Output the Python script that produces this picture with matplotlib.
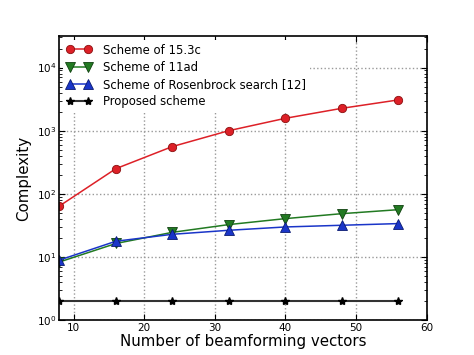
import numpy as np
import matplotlib
matplotlib.use("Agg")
import matplotlib.pyplot as plt
from matplotlib.ticker import LogLocator, NullFormatter

x = [8, 16, 24, 32, 40, 48, 56]
scheme_153c = [64, 250, 560, 1000, 1570, 2260, 3070]
scheme_11ad = [8.3, 16.3, 24.5, 32.5, 40.4, 48.4, 56]
scheme_rosen = [8.9, 17.7, 22.8, 26.4, 29.8, 31.7, 33.7]
proposed = [2, 2, 2, 2, 2, 2, 2]

labels = ["Scheme of 15.3c", "Scheme of 11ad",
          "Scheme of Rosenbrock search [12]", "Proposed scheme"]

fig = plt.figure(figsize=(4.74, 3.55), dpi=100)
ax = fig.add_axes([59.4/474, 1-320/355, (426.5-59.4)/474, (320-36)/355])

ax.plot(x, scheme_153c, color="#dd2027", marker="o", markersize=6,
        markeredgecolor="#8a1010", markeredgewidth=0.6, lw=1.1, label=labels[0])
ax.plot(x, scheme_11ad, color="#227a22", marker="v", markersize=6.5,
        markeredgecolor="#0f400f", markeredgewidth=0.6, lw=1.1, label=labels[1])
ax.plot(x, scheme_rosen, color="#1a35c8", marker="^", markersize=6.5,
        markeredgecolor="#0a1a70", markeredgewidth=0.6, lw=1.1, label=labels[2])
ax.plot(x, proposed, color="#333333", marker="*", markersize=6,
        markeredgecolor="black", markerfacecolor="black", lw=1.5, label=labels[3])

ax.set_yscale("log")
ax.set_xlim(8, 60)
ax.set_ylim(1, 10**4.5)
ax.set_xticks([10, 20, 30, 40, 50, 60])
ax.yaxis.set_major_locator(LogLocator(base=10, numticks=10))
ax.yaxis.set_minor_locator(LogLocator(base=10, subs=np.arange(2, 10), numticks=10))
ax.yaxis.set_minor_formatter(NullFormatter())

ax.grid(True, which="major", linestyle=":", color="#999999", lw=1.0)
ax.tick_params(which="both", direction="in", top=True, right=True, labelsize=7.5)
ax.tick_params(which="major", length=4, pad=2)
ax.tick_params(which="minor", length=2)
for s in ax.spines.values():
    s.set_linewidth(1.2)

ax.set_xlabel("Number of beamforming vectors", fontsize=10.8, labelpad=1)
ax.set_ylabel("Complexity", fontsize=10.8, labelpad=4)

leg = ax.legend(loc="upper left", fontsize=8.4, frameon=True, fancybox=False,
                numpoints=2, handlelength=2.1, handletextpad=1.0,
                borderaxespad=0.35, borderpad=0.3, labelspacing=0.35)
leg.get_frame().set_edgecolor("none")
leg.get_frame().set_facecolor("white")
leg.get_frame().set_alpha(1.0)
leg.set_zorder(1.5)

fig.savefig("out.png", dpi=100, facecolor="white")
